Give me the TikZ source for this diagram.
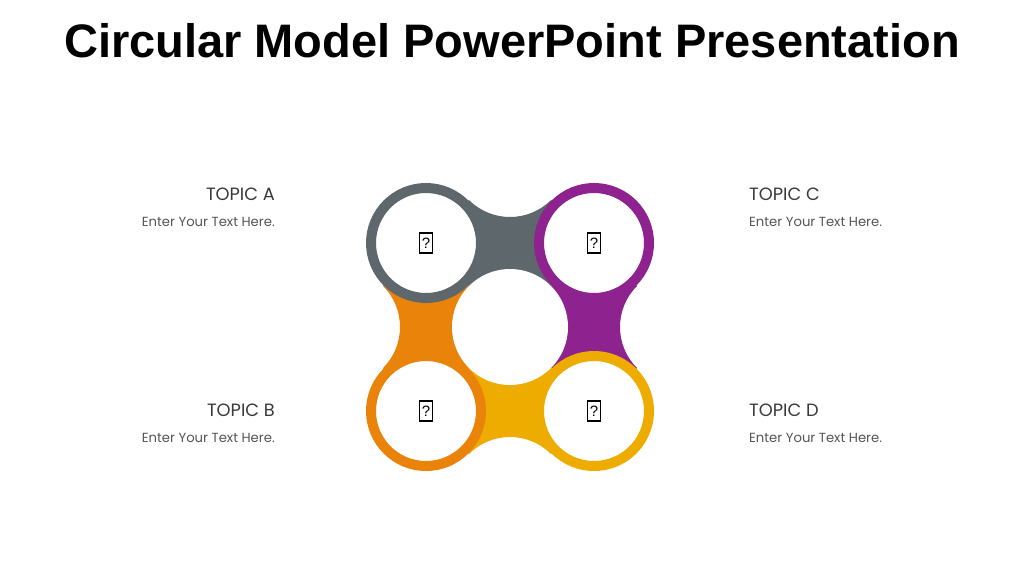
\documentclass[tikz,border=0pt]{standalone}
\usepackage{fontspec}
\setmainfont{Liberation Sans}
\newfontfamily\pop{Poppins}
\definecolor{cgray}{HTML}{5E676C}
\definecolor{cpurple}{HTML}{8E2390}
\definecolor{corange}{HTML}{EA830A}
\definecolor{cyellow}{HTML}{EFAC00}
\definecolor{ctopic}{HTML}{3A3A3A}
\definecolor{cbody}{HTML}{555555}
\begin{document}
\begin{tikzpicture}[x=1pt,y=-1pt,
  topic/.style={font=\pop\fontsize{17.8}{18}\selectfont,text=ctopic,inner sep=0pt},
  body/.style={font=\pop\fontsize{13.2}{13}\selectfont,text=cbody,inner sep=0pt},
  icon/.style={draw=black,line width=1.5pt,minimum width=13pt,minimum height=20pt,inner sep=0pt,font=\fontsize{15}{15}\selectfont},
  ring/.style={fill=white,draw=#1,line width=10pt}]
\useasboundingbox[fill=white] (0,0) rectangle (1024,576);
\node[font=\bfseries\fontsize{47}{47}\selectfont,anchor=base,inner sep=0pt] (title) at (512,57) {Circular Model PowerPoint Presentation};
% centres
\coordinate (TL) at (426,243);
\coordinate (TR) at (594,243);
\coordinate (BR) at (594,411);
\coordinate (BL) at (426,411);
\coordinate (C) at (510,327);
% bands
\fill[cgray] (TL) -- ([shift={(225:58pt)}]510,159) arc[start angle=225,end angle=315,radius=58pt] -- (TR) -- (C) -- cycle;
\fill[cpurple] (TR) -- ([shift={(135:58pt)}]678,327) arc[start angle=135,end angle=225,radius=58pt] -- (BR) -- (C) -- cycle;
\fill[cyellow] (BR) -- ([shift={(45:58pt)}]510,495) arc[start angle=45,end angle=135,radius=58pt] -- (BL) -- (C) -- cycle;
\fill[corange] (BL) -- ([shift={(-45:58pt)}]342,327) arc[start angle=-45,end angle=45,radius=58pt] -- (TL) -- (C) -- cycle;
\fill[white] (C) circle (58pt);
% rings
\draw[ring=cgray] (TL) circle (55pt);
\draw[ring=cpurple] (TR) circle (55pt);
\draw[ring=cyellow] (BR) circle (55pt);
\draw[ring=corange] (BL) circle (55pt);
% icons
\node[icon] (iA) at (TL) {?};
\node[icon] (iC) at (TR) {?};
\node[icon] (iD) at (BR) {?};
\node[icon] (iB) at (BL) {?};
% texts
\node[topic,anchor=base east] (tA) at (275,200) {TOPIC A};
\node[body,anchor=base east] (bA) at (275,226) {Enter Your Text Here.};
\node[topic,anchor=base east] (tB) at (275,416) {TOPIC B};
\node[body,anchor=base east] (bB) at (275,442) {Enter Your Text Here.};
\node[topic,anchor=base west] (tC) at (749,200) {TOPIC C};
\node[body,anchor=base west] (bC) at (749,226) {Enter Your Text Here.};
\node[topic,anchor=base west] (tD) at (749,416) {TOPIC D};
\node[body,anchor=base west] (bD) at (749,442) {Enter Your Text Here.};
\end{tikzpicture}
\end{document}
